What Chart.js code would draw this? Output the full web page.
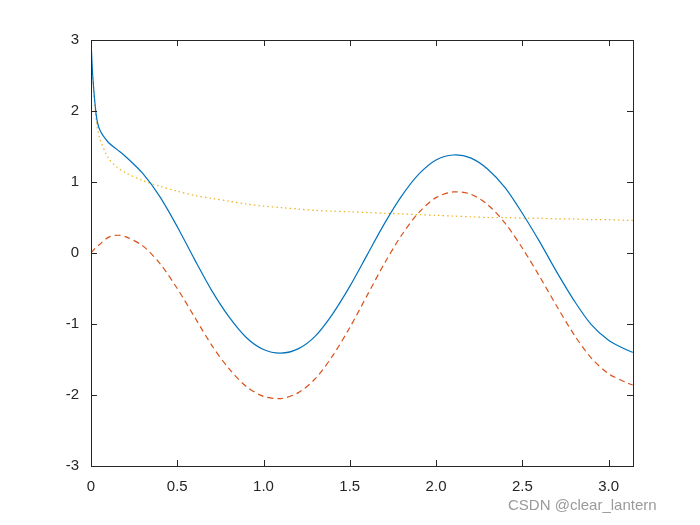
<!DOCTYPE html>
<html>
<head>
<meta charset="utf-8">
<script src="https://cdn.jsdelivr.net/npm/chart.js@4"></script>
<style>
  body { margin: 0; background: #fff; }
  #wrap { position: relative; width: 700px; height: 525px; }
  #mark { position: absolute; left: 508px; top: 496px; font: 15px "Liberation Sans", Arial, sans-serif; color: #9a9a9a; }
</style>
</head>
<body>
<div id="wrap">
  <canvas id="plot" width="700" height="525"></canvas>
  <div id="mark">CSDN @clear_lantern</div>
</div>
<script>
// valores
let xs = [0, 0.01, 0.03, 0.05, 0.1, 0.15, 0.2, 0.3, 0.4, 0.5, 0.6, 0.7, 0.8, 0.9, 1.0, 1.1, 1.2, 1.3, 1.4, 1.5, 1.6, 1.7, 1.8, 1.9, 2.0, 2.1, 2.2, 2.3, 2.4, 2.5, 2.6, 2.7, 2.8, 2.9, 3.0, 3.1, 3.14];
let azul = [3.0, 2.5, 1.95, 1.74, 1.56, 1.46, 1.36, 1.12, 0.79, 0.37, -0.09, -0.53, -0.9, -1.19, -1.36, -1.41, -1.35, -1.17, -0.86, -0.47, -0.03, 0.41, 0.8, 1.11, 1.31, 1.38, 1.34, 1.18, 0.92, 0.56, 0.16, -0.27, -0.67, -1.01, -1.23, -1.36, -1.4];
let rojo = [0, 0.03, 0.08, 0.12, 0.22, 0.25, 0.23, 0.1, -0.15, -0.5, -0.9, -1.3, -1.63, -1.88, -2.02, -2.05, -1.97, -1.77, -1.45, -1.05, -0.6, -0.15, 0.25, 0.57, 0.78, 0.86, 0.83, 0.68, 0.42, 0.07, -0.33, -0.75, -1.15, -1.48, -1.7, -1.82, -1.86];
let amarillo = [null, 2.47, 1.87, 1.62, 1.34, 1.21, 1.13, 1.02, 0.94, 0.87, 0.81, 0.77, 0.73, 0.69, 0.66, 0.64, 0.62, 0.6, 0.59, 0.58, 0.57, 0.56, 0.55, 0.54, 0.53, 0.52, 0.51, 0.5, 0.5, 0.49, 0.49, 0.48, 0.48, 0.47, 0.47, 0.46, 0.46];
let xTicks = [0, 0.5, 1, 1.5, 2, 2.5, 3];
let yTicks = [-3, -2, -1, 0, 1, 2, 3];

let puntos = (ys) => xs.map((x, i) => ({x: x, y: ys[i]})).filter(p => p.y !== null);

let serie = (ys, color, dash) => ({
  data: puntos(ys),
  borderColor: color,
  borderWidth: 1.2,
  borderDash: dash,
  pointRadius: 0,
  showLine: true,
  tension: 0.3
});

// caja y marcas hacia adentro, estilo MATLAB
let cajaPlugin = {
  id: 'caja',
  afterDraw: (chart) => {
    let ctx = chart.ctx;
    let a = chart.chartArea;
    let sx = chart.scales.x, sy = chart.scales.y;
    ctx.save();
    ctx.strokeStyle = '#262626';
    ctx.lineWidth = 1;
    ctx.strokeRect(a.left + 0.5, a.top + 0.5, a.right - a.left, a.bottom - a.top);
    ctx.beginPath();
    xTicks.forEach(t => {
      let px = Math.round(sx.getPixelForValue(t)) + 0.5;
      ctx.moveTo(px, a.bottom); ctx.lineTo(px, a.bottom - 6);
      ctx.moveTo(px, a.top); ctx.lineTo(px, a.top + 6);
    });
    yTicks.forEach(t => {
      let py = Math.round(sy.getPixelForValue(t)) + 0.5;
      ctx.moveTo(a.left, py); ctx.lineTo(a.left + 6, py);
      ctx.moveTo(a.right, py); ctx.lineTo(a.right - 6, py);
    });
    ctx.stroke();
    ctx.restore();
  }
};

let fuente = {family: '"Liberation Sans", Arial, sans-serif', size: 15};

new Chart(document.getElementById('plot'), {
  type: 'scatter',
  data: {
    datasets: [
      serie(azul, '#0072BD', []),
      serie(rojo, '#D95319', [6, 4]),
      serie(amarillo, '#EDB120', [1.5, 3])
    ]
  },
  options: {
    responsive: false,
    animation: false,
    layout: {padding: {top: 40, right: 67, left: 0, bottom: 0}},
    plugins: {legend: {display: false}, tooltip: {enabled: false}},
    scales: {
      x: {
        type: 'linear', min: 0, max: Math.PI,
        afterBuildTicks: (s) => { s.ticks = xTicks.map(v => ({value: v})); },
        afterFit: (s) => { s.height = 59; },
        grid: {display: false},
        border: {display: false},
        ticks: {color: '#262626', font: fuente, padding: 4, maxRotation: 0}
      },
      y: {
        type: 'linear', min: -3, max: 3,
        afterBuildTicks: (s) => { s.ticks = yTicks.map(v => ({value: v})); },
        afterFit: (s) => { s.width = 91; },
        grid: {display: false},
        border: {display: false},
        ticks: {color: '#262626', font: fuente, padding: 4}
      }
    }
  },
  plugins: [cajaPlugin]
});
</script>
</body>
</html>
